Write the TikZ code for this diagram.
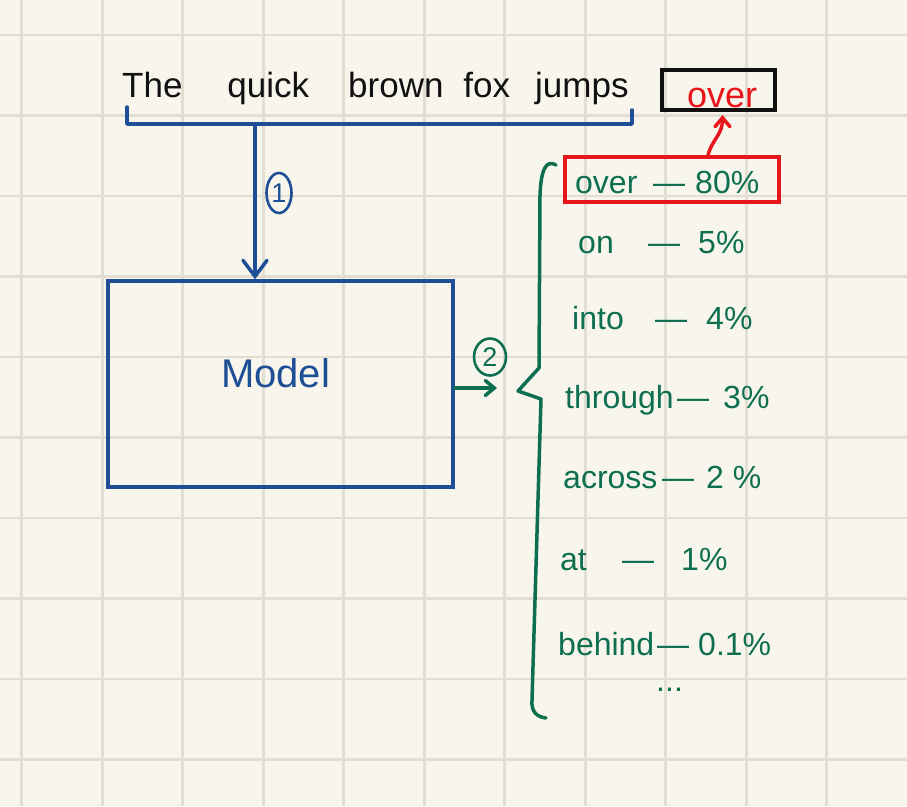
\documentclass[tikz,border=0pt]{standalone}
\usepackage{fontspec}
\setmainfont{Liberation Sans}
\usetikzlibrary{arrows.meta,shapes.geometric}
\definecolor{paper}{HTML}{F8F6EC}
\definecolor{gridc}{HTML}{E2DED2}
\definecolor{inkblue}{HTML}{1D4E96}
\definecolor{inkgreen}{HTML}{0E6E50}
\definecolor{inkred}{HTML}{E8151B}
\definecolor{inkblack}{HTML}{111111}
\begin{document}
\begin{tikzpicture}[x=1pt,y=-1pt,
  gridline/.style={draw=gridc,line width=2.6pt},
  blueline/.style={draw=inkblue,line width=3.5pt,line cap=round,line join=round},
  greenline/.style={draw=inkgreen,line width=3.5pt,line cap=round,line join=round},
  barb/.style={-{Straight Barb[length=16pt,width=24pt,line cap=round]}},
  smallbarb/.style={-{Straight Barb[length=9pt,width=15pt,line cap=round]}},
  item/.style={anchor=base west,inner sep=0,text=inkgreen,font=\fontsize{32}{36}\selectfont},
  circled/.style={ellipse,inner sep=0,line width=2.6pt,font=\fontsize{27}{28}\selectfont}
]
\useasboundingbox (0,0) rectangle (907,806);
\fill[paper] (0,0) rectangle (907,806);
% grid
\foreach \k in {0,...,10} {
  \draw[gridline] ({21.7+80.5*\k},0) -- ({21.7+80.5*\k},806);
}
\foreach \k in {0,...,9} {
  \draw[gridline] (0,{35+80.5*\k}) -- (907,{35+80.5*\k});
}

% sentence
\node[anchor=base west,inner sep=0,text=inkblack,font=\fontsize{35}{40}\selectfont] (sentence) at (122,97)
  {The\hspace{45pt}quick\hspace{39pt}brown\hspace{20pt}fox\hspace{25pt}jumps};

% bracket under the sentence
\coordinate (bl) at (127,124);
\coordinate (br) at (632,124);
\coordinate (brk) at (255,124);
\draw[blueline] (127,107) -- (bl) -- (br) -- (632,110);

% model box
\node[draw=inkblue,line width=3.5pt,minimum width=345,minimum height=206,inner sep=0,
      text=inkblue,font=\fontsize{40}{44}\selectfont] (model) at (280.5,384)
      {\raisebox{22pt}{Model\hspace{10pt}}};

% arrow 1
\draw[blueline,barb] (brk) -- (brk |- model.north);
\node[circled,draw=inkblue,text=inkblue,minimum width=25,minimum height=40] (c1) at (279,193) {1};

% arrow 2
\coordinate (a2) at (497,388);
\draw[greenline,smallbarb] (model.east |- a2) -- (a2);
\node[circled,draw=inkgreen,text=inkgreen,minimum width=32,minimum height=37] (c2) at (490,357) {2};

% curly brace
\draw[greenline] (556,165) .. controls (546,159) and (541,170) .. (540,195)
  -- (539,368) -- (518,391) -- (541,399) -- (532,700)
  .. controls (531,712) and (537,717) .. (546,718);

% candidate words
\foreach \n/\w/\wx/\dx/\p/\px/\by in {
  1/over/575/653/80\%/695/193,
  2/on/578/648/5\%/698/253,
  3/into/572/655/4\%/706/329,
  4/through/565/677/3\%/723/408,
  5/across/563/662/{2 \%}/706/488,
  6/at/560/622/1\%/681/570,
  7/behind/558/657/0.1\%/698/655} {
  \node[item] (w\n) at (\wx,\by) {\w};
  \node[item] (d\n) at (\dx,\by) {—};
  \node[item] (p\n) at (\px,\by) {\p};
}
\node[item] (more) at (656,691) {...};

% selection box
\node[draw=inkred,line width=3.5pt,minimum width=214,minimum height=45,inner sep=0] (sel) at (672,179.5) {};

% chosen word box
\node[draw=inkblack,line width=4pt,minimum width=113,minimum height=40,inner sep=0] (top) at (718.5,90) {};
\node[anchor=base west,inner sep=0,text=inkred,font=\fontsize{36}{40}\selectfont] (pick) at (687,107) {over};

% red arrow
\draw[draw=inkred,line width=3.5pt,line cap=round,smallbarb]
  ([xshift=36pt]sel.north) .. controls +(4,-16) and +(0,20) .. ([xshift=4pt,yshift=-3pt]top.south);
\end{tikzpicture}
\end{document}
